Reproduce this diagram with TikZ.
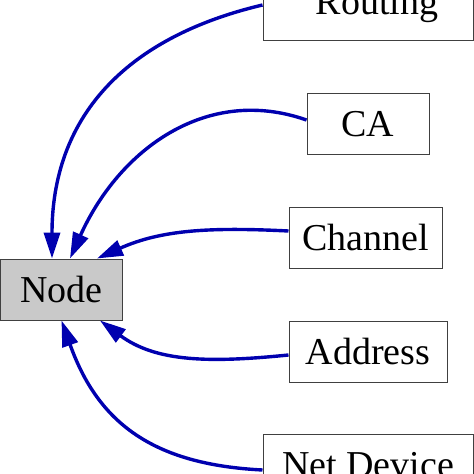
\documentclass[tikz,border=0pt]{standalone}
\usepackage{fontspec}
\setmainfont{Liberation Serif}
\usetikzlibrary{arrows.meta}

\definecolor{linkblue}{RGB}{0,0,175}

\begin{document}
\begin{tikzpicture}[
  x=1pt, y=1pt,
  modbox/.style={draw=black!75, line width=1pt, rectangle, fill=white, inner sep=0pt, minimum height=61pt, text height=26pt, text depth=0pt, font=\fontsize{38}{40}\selectfont},
  mainbox/.style={modbox, fill=lightgray!85},
  arrow/.style={-{Triangle[length=26pt, width=16pt]}, line width=3.4pt, draw=linkblue}
]

\useasboundingbox (0,0) rectangle (474,-474);
\clip (0,0) rectangle (474,-474);

\node[mainbox, minimum width=122pt] (nodebox) at (61.5,-289.5) {Node};

\node[modbox, minimum width=210pt, minimum height=78pt] (routing) at (368,-1) {\hspace*{18pt}Routing};
\node[modbox, minimum width=122pt] (ca) at (368,-123.5) {CA};
\node[modbox, minimum width=153pt] (channel) at (365.5,-237.5) {Channel};
\node[modbox, minimum width=158pt] (address) at (368,-351.5) {Address};
\node[modbox, minimum width=210pt] (netdev) at (368,-464.5) {Net Device};

\draw[arrow] ([yshift=-4pt]routing.west) .. controls (123,-38) and (52,-119) .. ([xshift=-9.5pt]nodebox.north);
\draw[arrow] ([yshift=3.5pt]ca.west) .. controls (207,-85) and (119.5,-149) .. ([xshift=8.5pt]nodebox.north);
\draw[arrow] ([yshift=6.5pt]channel.west) .. controls (209,-227) and (161,-230) .. ([xshift=35.5pt]nodebox.north);
\draw[arrow] ([yshift=-3.5pt]address.west) .. controls (209,-363) and (156,-362) .. ([xshift=38.5pt]nodebox.south);
\draw[arrow] ([yshift=-5.5pt]netdev.west) .. controls (153,-464.5) and (98,-423) .. (nodebox.south);

\end{tikzpicture}
\end{document}
